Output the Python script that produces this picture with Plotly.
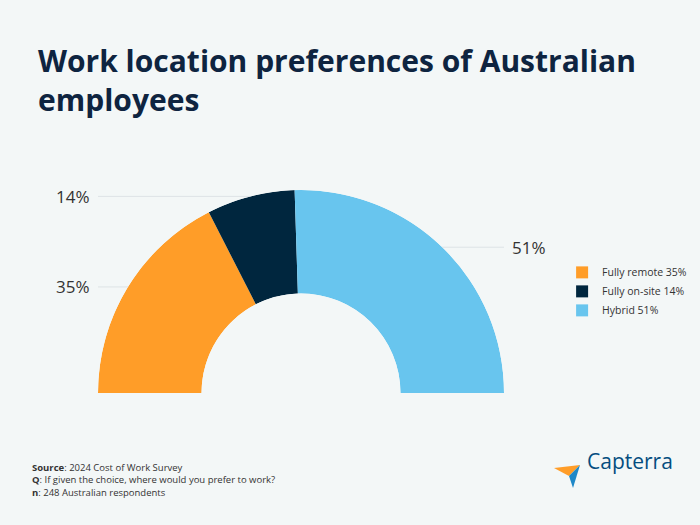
import math
import plotly.graph_objects as go

labels = ["Fully remote", "Fully on-site", "Hybrid"]
values = [35, 14, 51]
colors = ["#FF9D28", "#00263E", "#68C5EE"]
bg = "#F3F7F7"

W, H = 700, 525
cx, cy, R = 301, 393, 203  # pixel geometry of the half donut

fig = go.Figure()

cum = 0
mids = []
for lab, v, c in zip(labels, values, colors):
    mid = cum + v / 2
    mids.append(mid)
    fig.add_trace(go.Barpolar(
        r=[1], theta=[mid * 1.8], width=[v * 1.8], base=0,
        marker=dict(color=c, line=dict(width=0)),
        name=f"{lab} {v}%",
    ))
    cum += v

fig.update_layout(
    width=W, height=H, margin=dict(l=0, r=0, t=0, b=0),
    paper_bgcolor=bg, plot_bgcolor=bg,
    font=dict(family="Open Sans", color="#1a2b3c"),
    polar=dict(
        domain=dict(x=[(cx - R) / W, (cx + R) / W], y=[1 - cy / H, 1 - (cy - R) / H]),
        sector=[0, 180], hole=0.49, bgcolor=bg,
        radialaxis=dict(visible=False, range=[0, 1]),
        angularaxis=dict(visible=False, direction="clockwise", rotation=180),
        bargap=0,
    ),
    legend=dict(x=0.803, y=0.445, xanchor="left", yanchor="middle",
                font=dict(size=10.5, color="#333"), bgcolor="rgba(0,0,0,0)",
                traceorder="normal", itemwidth=30, tracegroupgap=2),
    showlegend=True,
)

# value labels with leader lines
for v, mid in zip(values, mids):
    ang = math.radians(180 - mid * 1.8)
    px = cx + R * math.cos(ang)
    py = cy - R * math.sin(ang)
    left = px < cx
    tx = 92 if left else 510
    x1 = px if left else px - 60
    fig.add_shape(type="line", xref="paper", yref="paper",
                  x0=(tx + 6 if left else tx - 6) / W, x1=x1 / W,
                  y0=1 - py / H, y1=1 - py / H,
                  line=dict(color="#dde3e6", width=1), layer="below")
    fig.add_annotation(text=f"{v}%", x=tx / W, y=1 - py / H, xref="paper", yref="paper",
                       xanchor="right" if left else "left",
                       showarrow=False, font=dict(size=17, color="#333"))

fig.add_annotation(text="<b>Work location preferences of Australian<br>employees</b>",
                   x=36 / W, y=1 - 38 / H, xref="paper", yref="paper", xanchor="left",
                   yanchor="top", align="left", showarrow=False,
                   font=dict(size=30, color="#0E2440", family="Open Sans"))

fig.add_annotation(text="<b>Source</b>: 2024 Cost of Work Survey<br><b>Q</b>: If given the choice, where would you prefer to work?<br><b>n</b>: 248 Australian respondents",
                   x=30 / W, y=1 - 459 / H, xref="paper", yref="paper", xanchor="left",
                   yanchor="top", align="left", showarrow=False,
                   font=dict(size=9.5, color="#333"))

# Capterra logo
fig.add_shape(type="path", xref="paper", yref="paper",
              path=f"M {554/W} {1-468/H} L {580/W} {1-465/H} L {569/W} {1-476/H} Z",
              fillcolor="#FF9D28", line=dict(width=0))
fig.add_shape(type="path", xref="paper", yref="paper",
              path=f"M {569/W} {1-476/H} L {580/W} {1-465/H} L {573/W} {1-488/H} Z",
              fillcolor="#1E88C8", line=dict(width=0))
fig.add_annotation(text="Capterra", x=585 / W, y=1 - 477 / H, xref="paper", yref="paper",
                   xanchor="left", showarrow=False,
                   font=dict(size=21, color="#044D80", family="Open Sans"))

fig.write_html("out.html", config={"displayModeBar": False},
               post_script="document.body.style.margin='0';document.body.style.overflow='hidden';")
